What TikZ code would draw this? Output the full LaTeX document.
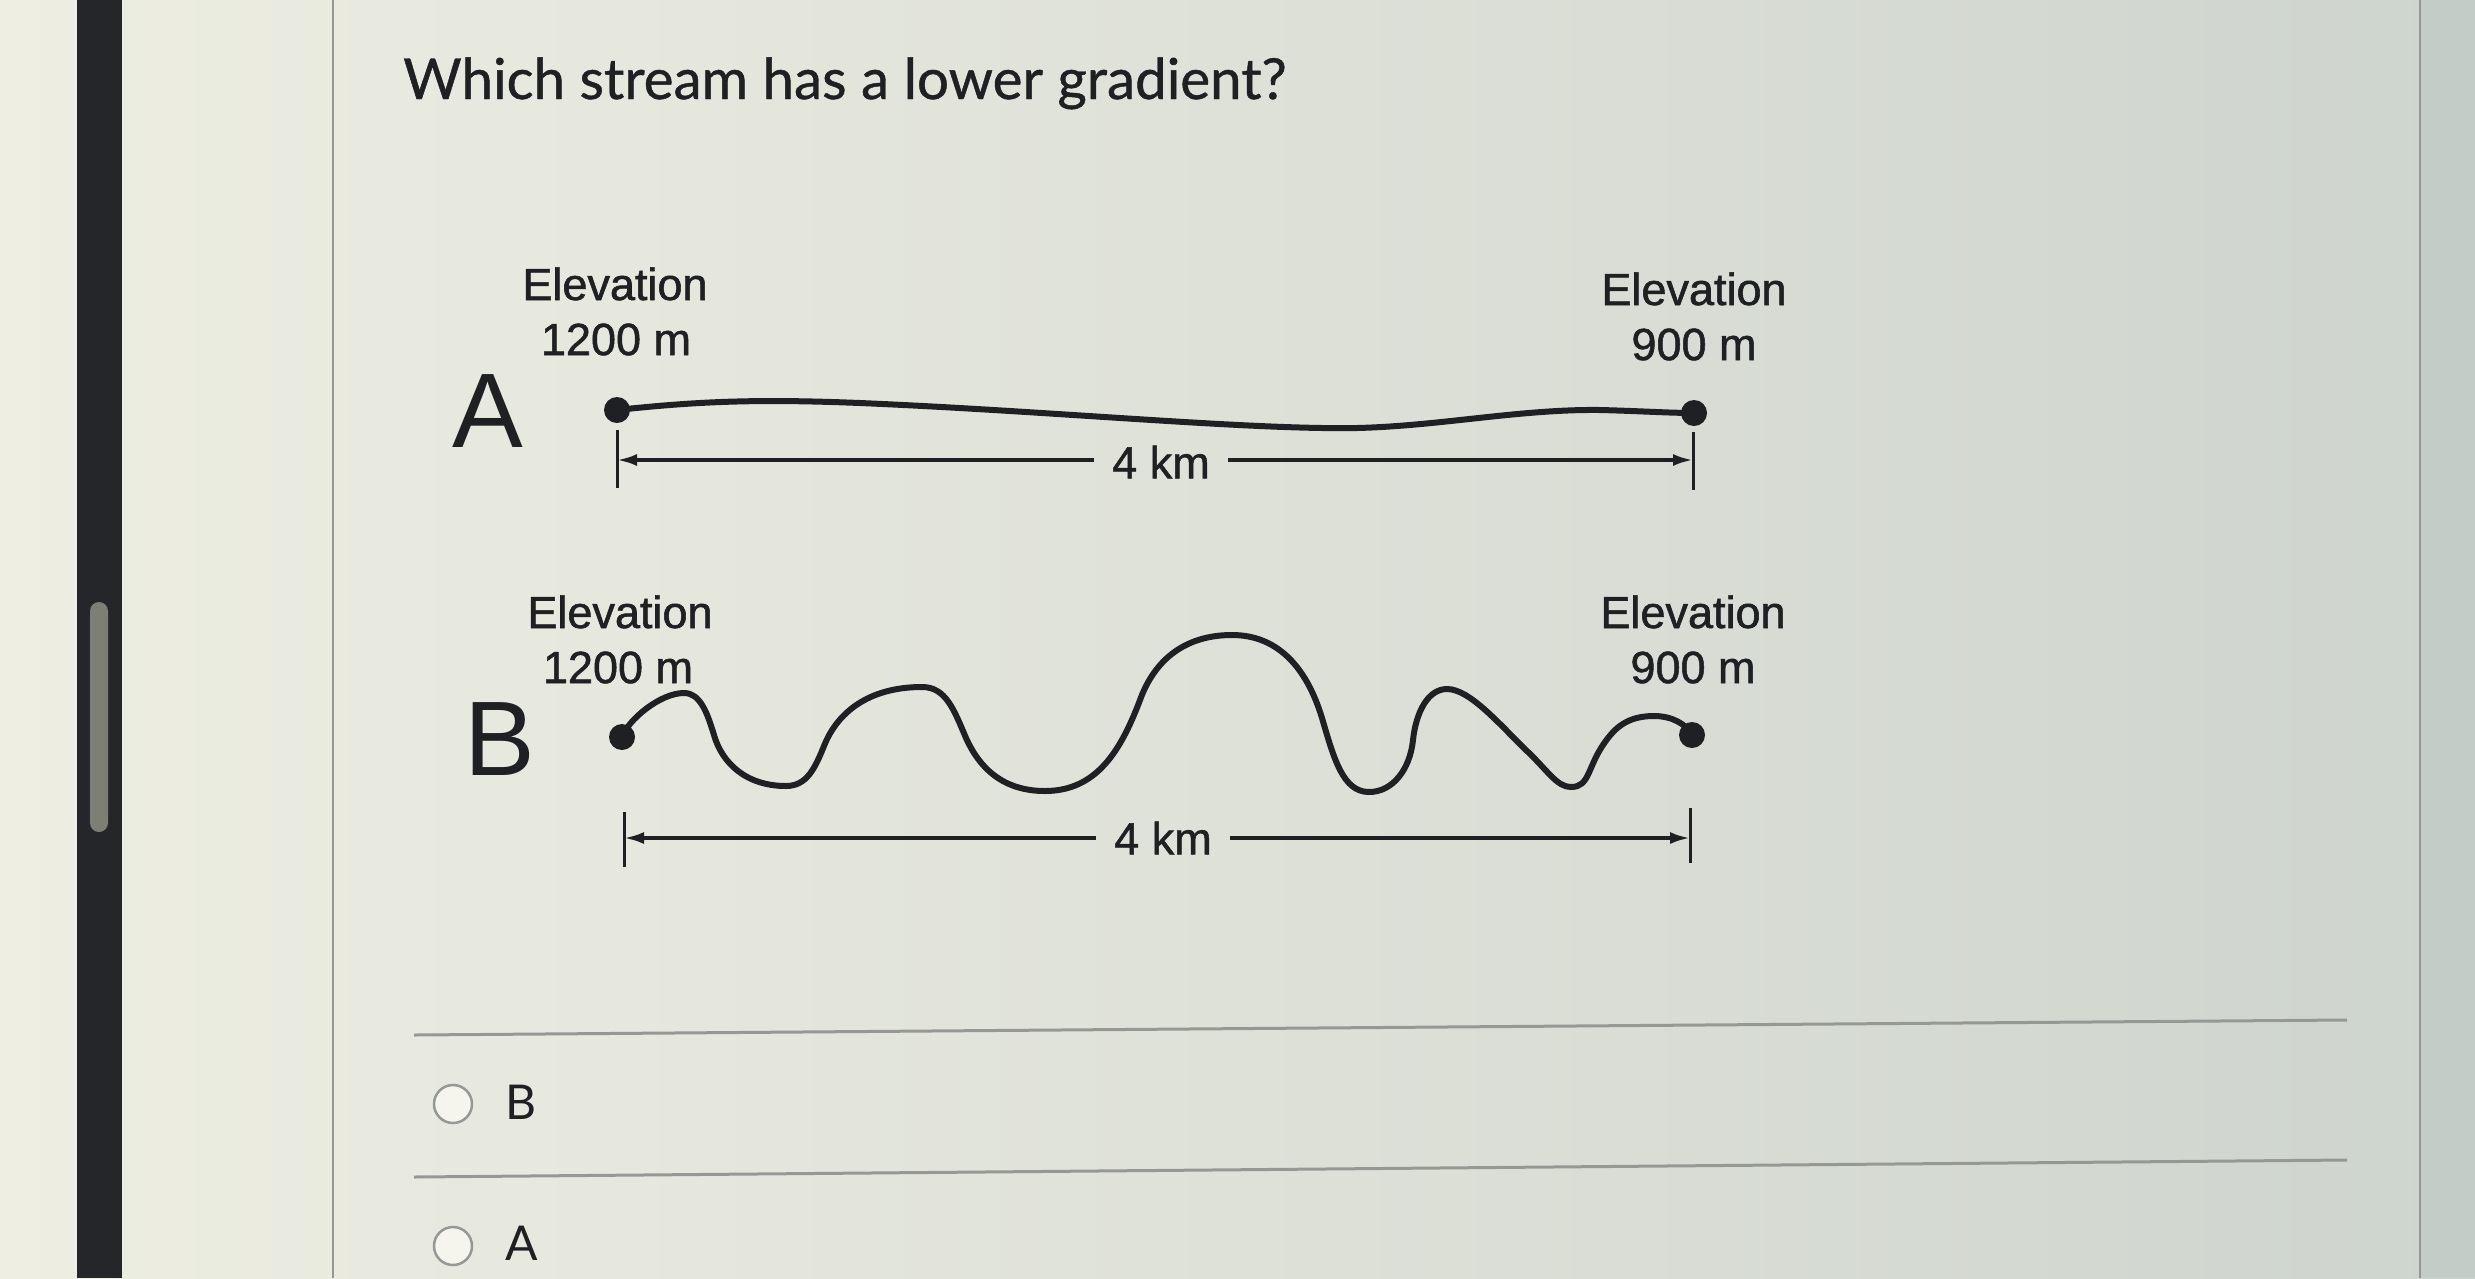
\documentclass[tikz,border=0pt]{standalone}
\usepackage{fontspec}
\setmainfont{Liberation Sans}
\newfontfamily\latofont{Lato}
\newfontfamily\titlefont[FakeBold=0.8]{Lato}
\newfontfamily\labfont[FakeBold=1.2]{Liberation Sans}
\usetikzlibrary{arrows.meta}
\definecolor{bgl}{RGB}{238,238,226}
\definecolor{bgr}{RGB}{206,212,206}
\definecolor{ink}{RGB}{30,32,36}
\definecolor{rulec}{RGB}{150,152,150}
\definecolor{barc}{RGB}{36,38,42}
\definecolor{thumbc}{RGB}{125,127,116}
\definecolor{sidec}{RGB}{196,204,200}
\begin{document}
\begin{tikzpicture}[x=1pt,y=-1pt,
  lab/.style={font=\labfont\fontsize{45}{54}\selectfont, text=ink, inner sep=0pt, anchor=base},
  bigl/.style={font=\fontsize{106}{110}\selectfont, text=ink, inner sep=0pt, anchor=base},
  km/.style={font=\labfont\fontsize{45}{54}\selectfont, text=ink, inner ysep=0pt, inner xsep=18pt},
  stream/.style={line width=6pt, draw=ink, line cap=round, line join=round},
  dotc/.style={fill=ink},
  dimline/.style={line width=3.5pt, draw=ink, -{Latex[length=20pt,width=12pt]}},
  tickl/.style={line width=3pt, draw=ink},
  opt/.style={font=\latofont\fontsize{48}{50}\selectfont, text=ink, inner sep=0pt, anchor=base west},
  radio/.style={draw=rulec, line width=2.5pt, fill=bgl!60!white},
  sep/.style={draw=rulec, line width=3pt}]
\useasboundingbox (0,0) rectangle (2475,1278);
% background
\shade[left color=bgl, right color=bgr] (0,0) rectangle (2475,1278);
\fill[sidec] (2420,0) rectangle (2475,1278);
\draw[rulec, line width=2.5pt] (2420,0) -- (2420,1278);
\draw[rulec, line width=2pt] (333,0) -- (333,1278);
\fill[barc] (77,0) rectangle (122,1278);
\fill[thumbc, rounded corners=9pt] (90,602) rectangle (108,832);
% title
\node[font=\titlefont\fontsize{56.5}{60}\selectfont, text=ink, inner sep=0pt, anchor=base west] (title) at (403,99) {Which stream has a lower gradient?};
% ---------- stream A ----------
\node[bigl] (letA) at (488,447) {A};
\node[lab] (eAL1) at (615,300) {Elevation};
\node[lab] (eAL2) at (616,355) {1200 m};
\node[lab] (eAR1) at (1694,305) {Elevation};
\node[lab] (eAR2) at (1694,360) {900 m};
\coordinate (aL) at (617,410);
\coordinate (aR) at (1694,413);
\draw[stream] (aL) .. controls (700,401) and (760,399) .. (860,403)
  .. controls (1050,411) and (1250,430) .. (1357,428)
  .. controls (1440,426) and (1520,409) .. (1600,410)
  .. controls (1640,411) and (1670,413) .. (aR);
\fill[dotc] (aL) circle (13);
\fill[dotc] (aR) circle (13);
\coordinate (tAL) at (617,460);
\coordinate (tAR) at (1693,460);
\draw[tickl] (617,430) -- (617,488);
\draw[tickl] (1693,432) -- (1693,490);
\node[km] (kmA) at (1161,462) {4 km};
\draw[dimline] (kmA.west |- tAL) -- (tAL);
\draw[dimline] (kmA.east |- tAR) -- (tAR);
% ---------- stream B ----------
\node[bigl] (letB) at (500,775) {B};
\node[lab] (eBL1) at (620,628) {Elevation};
\node[lab] (eBL2) at (618,683) {1200 m};
\node[lab] (eBR1) at (1693,628) {Elevation};
\node[lab] (eBR2) at (1693,683) {900 m};
\coordinate (bL) at (622,737);
\coordinate (bR) at (1692,735);
\draw[stream] (bL)
  .. controls (628,720) and (660,693) .. (684,693)
  .. controls (700,693) and (707,712) .. (714,735)
  .. controls (722,763) and (746,786) .. (786,786)
  .. controls (807,786) and (815,768) .. (824,746)
  .. controls (837,713) and (868,687) .. (922,687)
  .. controls (946,687) and (954,710) .. (966,738)
  .. controls (979,767) and (1002,791) .. (1045,791)
  .. controls (1097,791) and (1121,750) .. (1140,700)
  .. controls (1153,664) and (1181,635) .. (1232,635)
  .. controls (1281,635) and (1308,672) .. (1322,718)
  .. controls (1334,759) and (1343,792) .. (1369,792)
  .. controls (1393,792) and (1410,769) .. (1413,740)
  .. controls (1416,712) and (1428,689) .. (1447,689)
  .. controls (1470,689) and (1500,725) .. (1528,752)
  .. controls (1548,771) and (1557,787) .. (1571,787)
  .. controls (1590,787) and (1587,767) .. (1605,742)
  .. controls (1615,728) and (1627,716) .. (1654,716)
  .. controls (1672,716) and (1686,724) .. (bR);
\fill[dotc] (bL) circle (13);
\fill[dotc] (bR) circle (13);
\coordinate (tBL) at (624,838);
\coordinate (tBR) at (1690,838);
\draw[tickl] (624,812) -- (624,867);
\draw[tickl] (1690,808) -- (1690,863);
\node[km] (kmB) at (1163,838) {4 km};
\draw[dimline] (kmB.west |- tBL) -- (tBL);
\draw[dimline] (kmB.east |- tBR) -- (tBR);
% ---------- answer options ----------
\draw[sep] (414,1035) -- (2347,1020);
\draw[sep] (414,1177) -- (2347,1160);
\node[radio, circle, minimum size=38pt, inner sep=0pt] (rB) at (453,1104) {};
\node[opt] (oB) at (505,1119) {B};
\node[radio, circle, minimum size=38pt, inner sep=0pt] (rA) at (453,1246) {};
\node[opt] (oA) at (505,1260) {A};
\end{tikzpicture}
\end{document}
